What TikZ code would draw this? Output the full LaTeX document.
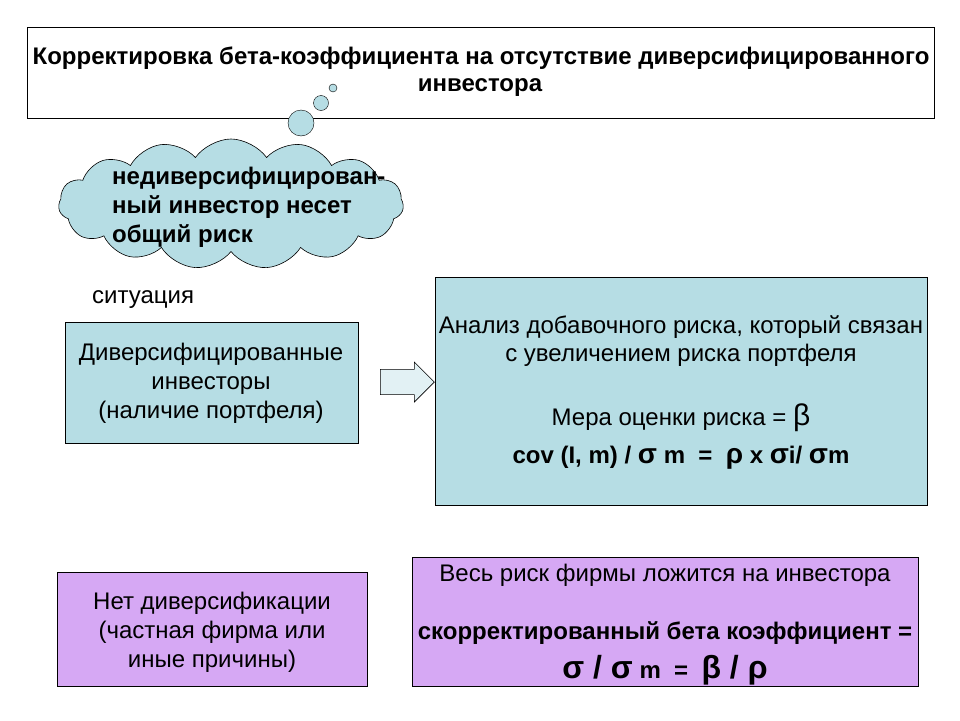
\documentclass[tikz,border=0pt]{standalone}
\usepackage{fontspec}
\setmainfont{Liberation Sans}
\usetikzlibrary{shapes.symbols,shapes.arrows}
\definecolor{teal1}{HTML}{B6DDE4}
\definecolor{purp}{HTML}{D6A8F4}
\begin{document}
\begin{tikzpicture}[x=1pt,y=-1pt,
  box/.style={draw=black,line width=0.6pt},
  txt/.style={font=\fontsize{24}{29}\selectfont,align=center,inner sep=0},
  btxt/.style={txt,font=\bfseries\fontsize{24}{29}\selectfont}]
\useasboundingbox (0,0) rectangle (960,720);
\fill[white] (0,0) rectangle (960,720);
\draw[box,fill=white] (27,27) rectangle (934,118);
\node[btxt] (title) at (481,58) {Корректировка бета-коэффициента на отсутствие диверсифицированного};
\node[btxt] (title2) at (480,88) {инвестора};
\node[cloud,draw,fill=teal1,cloud puffs=15,cloud puff arc=110,aspect=2.6,minimum width=345pt,minimum height=130pt,line width=0.6pt] (cloud) at (231,204) {};
\node[draw,circle,fill=teal1,minimum size=26pt,inner sep=0] (b1) at (301,123) {};
\node[draw,circle,fill=teal1,minimum size=15pt,inner sep=0] (b2) at (321,103) {};
\node[draw,circle,fill=teal1,minimum size=8pt,inner sep=0] (b3) at (333,88) {};
\node[txt,align=left,anchor=west,font=\bfseries\fontsize{24}{29}\selectfont] (ct) at (112,207) {недиверсифицирован-\\ный инвестор несет\\общий риск};
\node[txt,anchor=west] (sit) at (92,300) {ситуация};
\draw[box,fill=teal1] (65,322) rectangle (358,443);
\node[txt,font=\fontsize{24}{29}\selectfont] (d1) at (211,383) {Диверсифицированные\\инвесторы\\(наличие портфеля)};
\node[single arrow,draw,fill=teal1!40,minimum height=54pt,minimum width=40pt,single arrow head extend=6pt,inner xsep=0pt,inner ysep=10pt,line width=0.6pt] (arr) at (401,382) {};
\draw[box,fill=teal1] (435,277) rectangle (927,505);
\node[txt] (a1) at (681,327) {Анализ добавочного риска, который связан};
\node[txt] (a2) at (681,355) {с увеличением риска портфеля};
\node[txt] (a3) at (681,418) {Мера оценки риска = {\fontsize{30}{30}\selectfont β}};
\node[btxt] (a4) at (681,458) {cov (I, m) / {\fontsize{28}{28}\selectfont σ} m \ = \ {\fontsize{28}{28}\selectfont ρ} x {\fontsize{28}{28}\selectfont σ}i/ {\fontsize{28}{28}\selectfont σ}m};
\draw[box,fill=purp] (57,572) rectangle (367,686);
\node[txt] (n1) at (212,632) {Нет диверсификации\\(частная фирма или\\иные причины)};
\draw[box,fill=purp] (412,557) rectangle (918,686);
\node[txt] (w1) at (665,575) {Весь риск фирмы ложится на инвестора};
\node[btxt] (w2) at (665,633) {скорректированный бета коэффициент =};
\node[btxt] (w3) at (665,670) {{\fontsize{32}{32}\selectfont σ / σ} m \ = \ {\fontsize{32}{32}\selectfont β / ρ}};
\end{tikzpicture}
\end{document}
